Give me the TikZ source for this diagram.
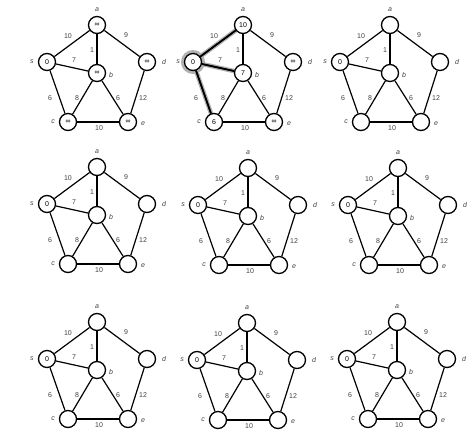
\documentclass[tikz,border=0pt]{standalone}
\usepackage{fontspec}
\setmainfont{Liberation Sans}
\usetikzlibrary{backgrounds}
\tikzset{
  vtx/.style={circle, draw, line width=1.3pt, fill=white, minimum size=17pt, inner sep=0pt, font=\fontsize{7}{8}\selectfont},
  edg/.style={line width=1.2pt},
  edgab/.style={line width=1.7pt},
  thk/.style={line width=1.8pt},
  halo/.style={line width=4.5pt, draw=black!30, line cap=round},
  wt/.style={font=\fontsize{7}{8}\selectfont, text=black!75, inner sep=0pt},
  nl/.style={font=\fontsize{7}{8}\selectfont\itshape, text=black!75, inner sep=0pt},
}
\newcommand{\drawgraph}[9]{%
\begin{scope}[shift={(#2,#3)}]
  \node[vtx] (#1a) at (0,0) {#5};
  \node[vtx] (#1s) at (-50,37) {#4};
  \node[vtx] (#1b) at (0,48) {#6};
  \node[vtx] (#1d) at (50,37) {#8};
  \node[vtx] (#1c) at (-29,97) {#7};
  \node[vtx] (#1e) at (31,97) {#9};
  \draw[edgab] (#1a) -- (#1b);
  \draw[edg] (#1a) -- (#1s);
  \draw[edg] (#1a) -- (#1d);
  \draw[edg] (#1s) -- (#1b);
  \draw[edg] (#1s) -- (#1c);
  \draw[edg] (#1b) -- (#1c);
  \draw[edg] (#1b) -- (#1e);
  \draw[edg] (#1d) -- (#1e);
  \draw[edg] (#1c) -- (#1e);
  \node[nl] (#1la) at (0,-15) {a};
  \node[nl] (#1ls) at (-65,37) {s};
  \node[nl] (#1lb) at (14,50) {b};
  \node[nl] (#1ld) at (67,37) {d};
  \node[nl] (#1lc) at (-44,97) {c};
  \node[nl] (#1le) at (46,99) {e};
  \node[wt] (#1wsa) at (-29,11) {10};
  \node[wt] (#1wad) at (29,10) {9};
  \node[wt] (#1wab) at (-5,25) {1};
  \node[wt] (#1wsb) at (-23,35) {7};
  \node[wt] (#1wsc) at (-47,73) {6};
  \node[wt] (#1wbc) at (-20,73) {8};
  \node[wt] (#1wbe) at (21,73) {6};
  \node[wt] (#1wde) at (46,73) {12};
  \node[wt] (#1wce) at (2,103) {10};
\end{scope}}
\begin{document}
\begin{tikzpicture}[x=1pt,y=-1pt]
  \useasboundingbox (0,0) rectangle (474,445);
  \drawgraph{g1}{97}{25}{0}{∞}{∞}{∞}{∞}{∞}
  \drawgraph{g2}{243}{25}{0}{10}{7}{6}{∞}{∞}
  \begin{scope}[on background layer]
    \draw[halo] (g2s) -- (g2a);
    \draw[halo] (g2s) -- (g2b);
    \draw[halo] (g2s) -- (g2c);
    \draw[line width=3pt, draw=black!30] (g2s.center) circle (10.5pt);
  \end{scope}
  \draw[thk] (g2s) -- (g2a);
  \draw[thk] (g2s) -- (g2b);
  \draw[thk] (g2s) -- (g2c);
  \drawgraph{g3}{390}{25}{0}{}{}{}{}{}
  \drawgraph{g4}{97}{167}{0}{}{}{}{}{}
  \drawgraph{g5}{248}{168}{0}{}{}{}{}{}
  \drawgraph{g6}{398}{168}{0}{}{}{}{}{}
  \drawgraph{g7}{97}{322}{0}{}{}{}{}{}
  \drawgraph{g8}{247}{323}{0}{}{}{}{}{}
  \drawgraph{g9}{397}{322}{0}{}{}{}{}{}
\end{tikzpicture}
\end{document}
